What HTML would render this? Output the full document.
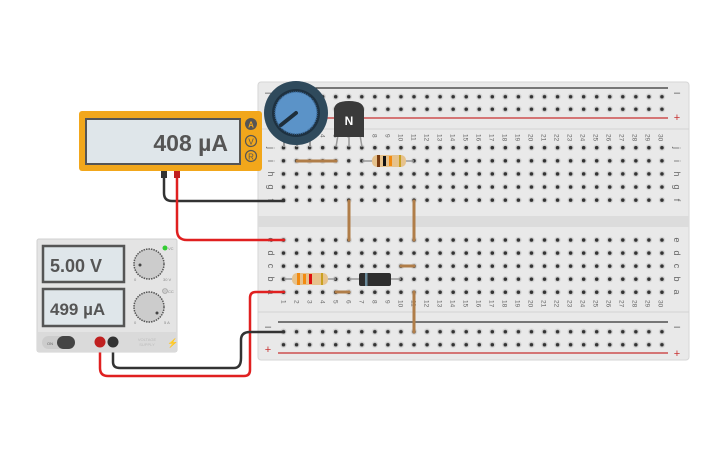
<!DOCTYPE html>
<html><head><meta charset="utf-8"><style>html,body{margin:0;padding:0;background:#fff}svg{display:block}</style></head><body>
<svg width="725" height="453" viewBox="0 0 725 453" xmlns="http://www.w3.org/2000/svg" font-family="Liberation Sans, sans-serif">
<defs>
<pattern id="r1" x="277" y="90.2" width="13.05" height="12.5" patternUnits="userSpaceOnUse"><circle cx="6.5" cy="6.5" r="3.2" fill="#d4d4d4"/><circle cx="6.5" cy="6.5" r="1.8" fill="#333"/></pattern>
<pattern id="r2" x="277" y="141.2" width="13.05" height="13.1" patternUnits="userSpaceOnUse"><circle cx="6.5" cy="6.5" r="3.2" fill="#d4d4d4"/><circle cx="6.5" cy="6.5" r="1.8" fill="#333"/></pattern>
<pattern id="r3" x="277" y="233.5" width="13.05" height="13.05" patternUnits="userSpaceOnUse"><circle cx="6.5" cy="6.5" r="3.2" fill="#d4d4d4"/><circle cx="6.5" cy="6.5" r="1.8" fill="#333"/></pattern>
<pattern id="r4" x="277" y="325.2" width="13.05" height="13" patternUnits="userSpaceOnUse"><circle cx="6.5" cy="6.5" r="3.2" fill="#d4d4d4"/><circle cx="6.5" cy="6.5" r="1.8" fill="#333"/></pattern>
</defs>
<!-- breadboard -->
<rect x="258" y="82" width="431" height="278" rx="3" fill="#e9e9e9" stroke="#d6d6d6"/>
<line x1="258" y1="129" x2="689" y2="129" stroke="#d2d2d2"/>
<line x1="258" y1="312" x2="689" y2="312" stroke="#d2d2d2"/>
<rect x="258" y="216" width="431" height="11" fill="#dcdcdc"/>
<line x1="278" y1="88" x2="668" y2="88" stroke="#333" stroke-width="1.2"/>
<line x1="278" y1="118" x2="668" y2="118" stroke="#c83030" stroke-width="1.2"/>
<line x1="278" y1="322" x2="668" y2="322" stroke="#333" stroke-width="1.2"/>
<line x1="278" y1="353" x2="668" y2="353" stroke="#c83030" stroke-width="1.2"/>
<rect x="277" y="90.2" width="392" height="25" fill="url(#r1)"/>
<rect x="277" y="141.2" width="392" height="65.5" fill="url(#r2)"/>
<rect x="277" y="233.5" width="392" height="65.2" fill="url(#r3)"/>
<rect x="277" y="325.2" width="392" height="26" fill="url(#r4)"/>
<!-- rail signs -->
<g font-size="11" text-anchor="middle">
<text x="677" y="96" fill="#555">–</text><text x="677" y="121" fill="#c83030">+</text>
<text x="677" y="330" fill="#555">–</text><text x="677" y="357" fill="#c83030">+</text>
<text x="268" y="330" fill="#555">–</text><text x="268" y="353" fill="#c83030">+</text>
<text x="268" y="96" fill="#555">–</text><text x="268" y="121" fill="#c83030">+</text>
</g>
<!-- row letters -->
<g font-size="9" fill="#666" text-anchor="middle">
<g transform="translate(271,148) rotate(90)"><text y="3">j</text></g>
<g transform="translate(271,161) rotate(90)"><text y="3">i</text></g>
<g transform="translate(271,174) rotate(90)"><text y="3">h</text></g>
<g transform="translate(271,187) rotate(90)"><text y="3">g</text></g>
<g transform="translate(271,200) rotate(90)"><text y="3">f</text></g>
<g transform="translate(271,240) rotate(90)"><text y="3">e</text></g>
<g transform="translate(271,253) rotate(90)"><text y="3">d</text></g>
<g transform="translate(271,266) rotate(90)"><text y="3">c</text></g>
<g transform="translate(271,279) rotate(90)"><text y="3">b</text></g>
<g transform="translate(271,292) rotate(90)"><text y="3">a</text></g>
<g transform="translate(677,148) rotate(90)"><text y="3">j</text></g>
<g transform="translate(677,161) rotate(90)"><text y="3">i</text></g>
<g transform="translate(677,174) rotate(90)"><text y="3">h</text></g>
<g transform="translate(677,187) rotate(90)"><text y="3">g</text></g>
<g transform="translate(677,200) rotate(90)"><text y="3">f</text></g>
<g transform="translate(677,240) rotate(90)"><text y="3">e</text></g>
<g transform="translate(677,253) rotate(90)"><text y="3">d</text></g>
<g transform="translate(677,266) rotate(90)"><text y="3">c</text></g>
<g transform="translate(677,279) rotate(90)"><text y="3">b</text></g>
<g transform="translate(677,292) rotate(90)"><text y="3">a</text></g>
</g>
<!-- column numbers -->
<g font-size="6.5" fill="#666">
<text transform="translate(281.5,134) rotate(90)">1</text><text transform="translate(294.5,134) rotate(90)">2</text><text transform="translate(307.5,134) rotate(90)">3</text><text transform="translate(320.5,134) rotate(90)">4</text><text transform="translate(333.5,134) rotate(90)">5</text><text transform="translate(346.5,134) rotate(90)">6</text><text transform="translate(359.5,134) rotate(90)">7</text><text transform="translate(372.5,134) rotate(90)">8</text><text transform="translate(385.5,134) rotate(90)">9</text><text transform="translate(398.5,134) rotate(90)">10</text><text transform="translate(411.5,134) rotate(90)">11</text><text transform="translate(424.5,134) rotate(90)">12</text><text transform="translate(437.5,134) rotate(90)">13</text><text transform="translate(450.5,134) rotate(90)">14</text><text transform="translate(463.5,134) rotate(90)">15</text><text transform="translate(476.5,134) rotate(90)">16</text><text transform="translate(489.5,134) rotate(90)">17</text><text transform="translate(502.5,134) rotate(90)">18</text><text transform="translate(515.5,134) rotate(90)">19</text><text transform="translate(528.5,134) rotate(90)">20</text><text transform="translate(541.5,134) rotate(90)">21</text><text transform="translate(554.5,134) rotate(90)">22</text><text transform="translate(567.5,134) rotate(90)">23</text><text transform="translate(580.5,134) rotate(90)">24</text><text transform="translate(593.5,134) rotate(90)">25</text><text transform="translate(606.5,134) rotate(90)">26</text><text transform="translate(619.5,134) rotate(90)">27</text><text transform="translate(632.5,134) rotate(90)">28</text><text transform="translate(645.5,134) rotate(90)">29</text><text transform="translate(658.5,134) rotate(90)">30</text>
<text transform="translate(281.5,300) rotate(90)">1</text><text transform="translate(294.5,300) rotate(90)">2</text><text transform="translate(307.5,300) rotate(90)">3</text><text transform="translate(320.5,300) rotate(90)">4</text><text transform="translate(333.5,300) rotate(90)">5</text><text transform="translate(346.5,300) rotate(90)">6</text><text transform="translate(359.5,300) rotate(90)">7</text><text transform="translate(372.5,300) rotate(90)">8</text><text transform="translate(385.5,300) rotate(90)">9</text><text transform="translate(398.5,300) rotate(90)">10</text><text transform="translate(411.5,300) rotate(90)">11</text><text transform="translate(424.5,300) rotate(90)">12</text><text transform="translate(437.5,300) rotate(90)">13</text><text transform="translate(450.5,300) rotate(90)">14</text><text transform="translate(463.5,300) rotate(90)">15</text><text transform="translate(476.5,300) rotate(90)">16</text><text transform="translate(489.5,300) rotate(90)">17</text><text transform="translate(502.5,300) rotate(90)">18</text><text transform="translate(515.5,300) rotate(90)">19</text><text transform="translate(528.5,300) rotate(90)">20</text><text transform="translate(541.5,300) rotate(90)">21</text><text transform="translate(554.5,300) rotate(90)">22</text><text transform="translate(567.5,300) rotate(90)">23</text><text transform="translate(580.5,300) rotate(90)">24</text><text transform="translate(593.5,300) rotate(90)">25</text><text transform="translate(606.5,300) rotate(90)">26</text><text transform="translate(619.5,300) rotate(90)">27</text><text transform="translate(632.5,300) rotate(90)">28</text><text transform="translate(645.5,300) rotate(90)">29</text><text transform="translate(658.5,300) rotate(90)">30</text>
</g>
<!-- jumpers -->
<g stroke="#b07d48" stroke-width="3" stroke-linecap="round">
<line x1="297" y1="161" x2="336" y2="161"/>
<line x1="349" y1="201" x2="349" y2="240"/>
<line x1="414" y1="201" x2="414" y2="240"/>
<line x1="401" y1="266" x2="414" y2="266"/>
<line x1="336" y1="292" x2="349" y2="292"/>
<line x1="414" y1="292" x2="414" y2="332"/>
</g>
<!-- resistor top -->
<line x1="362" y1="161" x2="414" y2="161" stroke="#999" stroke-width="1.5"/>
<rect x="372" y="155" width="34" height="12" rx="5" fill="#e6c28c"/>
<rect x="377" y="155" width="3" height="12" fill="#7a3b10"/><rect x="383" y="156" width="3" height="10" fill="#111"/><rect x="389" y="156" width="3" height="10" fill="#f28a10"/><rect x="399" y="155" width="2" height="12" fill="#c8a020"/>
<!-- resistor bottom -->
<line x1="284" y1="279" x2="336" y2="279" stroke="#999" stroke-width="1.5"/>
<rect x="292" y="273" width="36" height="12" rx="5" fill="#e6c28c"/>
<rect x="297" y="273" width="3" height="12" fill="#f28a10"/><rect x="303" y="274" width="3" height="10" fill="#f28a10"/><rect x="309" y="274" width="3" height="10" fill="#e01010"/><rect x="321" y="273" width="2" height="12" fill="#c8a020"/>
<!-- diode -->
<line x1="349" y1="279" x2="401" y2="279" stroke="#999" stroke-width="1.5"/>
<rect x="359" y="273" width="32" height="13" rx="2" fill="#2e2e2e"/>
<rect x="365" y="273" width="2.5" height="13" fill="#6a8a9a"/>
<!-- transistor -->
<g stroke="#999" stroke-width="1.5" fill="none"><path d="M338 135 L336 147"/><path d="M349 135 L349 147"/><path d="M360 135 L362 147"/></g>
<path d="M334 110 Q334 101 349 101 Q364 101 364 110 L364 137 L334 137 Z" fill="#3a3a3a"/>
<text x="349" y="125" font-size="12" font-weight="bold" fill="#fff" text-anchor="middle">N</text>
<!-- pot -->
<g stroke="#999" stroke-width="2"><line x1="284" y1="135" x2="284" y2="147"/><line x1="297" y1="135" x2="297" y2="147"/><line x1="310" y1="135" x2="310" y2="147"/></g>
<circle cx="296" cy="113" r="32" fill="#2f4a5c"/>
<circle cx="296" cy="113" r="24" fill="#1e3140"/>
<circle cx="296" cy="113" r="21" fill="#5b93c8" stroke="#3f6f9f" stroke-width="1.5" stroke-dasharray="1 1"/>
<line x1="296" y1="113" x2="281" y2="125" stroke="#1e2e3a" stroke-width="4" stroke-linecap="round"/>
<!-- wires -->
<g fill="none" stroke-width="2.5" stroke-linecap="round">
<path d="M164 176 V193 Q164 201 172 201 H284" stroke="#333"/>
<path d="M177 176 V230 Q177 240 187 240 H284" stroke="#e02020"/>
<path d="M100 342 V368 Q100 376 108 376 H244 Q250 376 250 370 V298 Q250 292 256 292 H284" stroke="#e02020"/>
<path d="M113 342 V362 Q113 368 120 368 H234 Q241 368 241 358 V340 Q241 332 250 332 H284" stroke="#333"/>
</g>
<!-- multimeter -->
<rect x="79" y="111" width="183" height="60" rx="3" fill="#f2a71b"/>
<rect x="86" y="119" width="154" height="45" fill="#dfe6ea" stroke="#555" stroke-width="2"/>
<text x="228" y="151" font-size="23" font-weight="bold" fill="#555" text-anchor="end">408 µA</text>
<circle cx="251" cy="124" r="6" fill="#555"/><text x="251" y="127.5" font-size="8" font-weight="bold" fill="#f2a71b" text-anchor="middle">A</text>
<circle cx="251" cy="141" r="5.5" fill="none" stroke="#555" stroke-width="1.2"/><text x="251" y="144.5" font-size="8" fill="#555" text-anchor="middle">V</text>
<circle cx="251" cy="156" r="5.5" fill="none" stroke="#555" stroke-width="1.2"/><text x="251" y="159.5" font-size="8" fill="#555" text-anchor="middle">R</text>
<rect x="161" y="171" width="6" height="7" fill="#333"/><rect x="174" y="171" width="6" height="7" fill="#c02020"/>
<!-- power supply -->
<rect x="37" y="239" width="140" height="113" rx="2" fill="#e4e4e4" stroke="#d0d0d0"/>
<rect x="37" y="332" width="140" height="20" fill="#dadada"/>
<rect x="43" y="246" width="81" height="36" fill="#dfe6ea" stroke="#555" stroke-width="2.5"/>
<rect x="43" y="289" width="81" height="37" fill="#dfe6ea" stroke="#555" stroke-width="2.5"/>
<text x="50" y="272" font-size="18" font-weight="bold" fill="#555">5.00 V</text>
<text x="50" y="315" font-size="17" font-weight="bold" fill="#555">499 µA</text>
<circle cx="149" cy="264" r="15" fill="#ccc" stroke="#555" stroke-width="1.5" stroke-dasharray="1.5 1"/>
<circle cx="140" cy="265" r="1.5" fill="#444"/>
<circle cx="149" cy="307" r="15" fill="#ccc" stroke="#555" stroke-width="1.5" stroke-dasharray="1.5 1"/>
<circle cx="157" cy="313" r="1.5" fill="#444"/>
<circle cx="165" cy="248" r="2.5" fill="#3c3"/><circle cx="165" cy="291" r="2.5" fill="#ccc" stroke="#999" stroke-width=".6"/>
<text x="168" y="250" font-size="4" fill="#888">VC</text><text x="168" y="293" font-size="4" fill="#888">CC</text>
<text x="134" y="281" font-size="4" fill="#888">0</text><text x="163" y="281" font-size="4" fill="#888">30 V</text>
<text x="134" y="324" font-size="4" fill="#888">0</text><text x="164" y="324" font-size="4" fill="#888">5 A</text>
<rect x="42" y="336" width="33" height="13" rx="6.5" fill="#ccc"/>
<rect x="57" y="336" width="18" height="13" rx="6.5" fill="#444"/>
<text x="47" y="345" font-size="4" fill="#666">ON</text>
<circle cx="100" cy="342" r="5.5" fill="#c02020"/><circle cx="113" cy="342" r="5.5" fill="#333"/>
<text x="147" y="341" font-size="4" fill="#bbb" text-anchor="middle">VOLTAGE</text>
<text x="147" y="346" font-size="4" fill="#bbb" text-anchor="middle">SUPPLY</text>
<text x="167" y="346" font-size="9" fill="#ccc">⚡</text>
</svg>
</body></html>
